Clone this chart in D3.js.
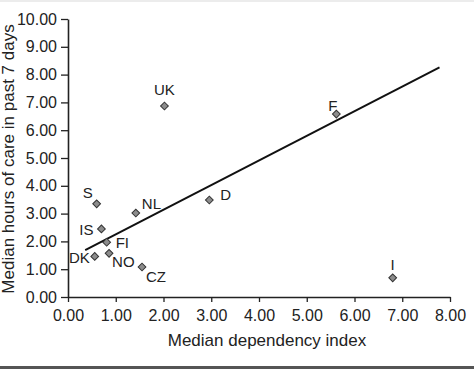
<!DOCTYPE html>
<html>
<head>
<meta charset="utf-8">
<script src="https://cdn.jsdelivr.net/npm/d3@7"></script>
<style>
  body { margin: 0; background: #fff; }
  svg { display: block; font-family: "Liberation Sans", Arial, sans-serif; }
</style>
</head>
<body>
<div id="chart"></div>
<script>
// Country data
const countries = ['UK', 'F', 'I', 'D', 'S', 'NL', 'IS', 'FI', 'DK', 'NO', 'CZ'];
const dependency = [2.02, 5.62, 6.80, 2.96, 0.60, 1.42, 0.70, 0.81, 0.56, 0.86, 1.55];
const hoursCare = [6.87, 6.58, 0.69, 3.49, 3.35, 3.02, 2.45, 1.97, 1.46, 1.57, 1.08];

// Fit line endpoints
const fitX = [0.36, 7.78];
const fitY = [1.69, 8.26];

const xTicks = [0, 1, 2, 3, 4, 5, 6, 7, 8];
const yTicks = [0, 1, 2, 3, 4, 5, 6, 7, 8, 9, 10];

// label offsets [dx, dy, anchor] per country
const labelPos = {
  UK: [0, -11, 'middle'],
  F: [1, -3, 'end'],
  I: [0, -8, 'middle'],
  D: [11, 0, 'start'],
  S: [-4, -6, 'end'],
  NL: [6, -4, 'start'],
  IS: [-8, 6, 'end'],
  FI: [9, 6, 'start'],
  DK: [-5, 7, 'end'],
  NO: [3, 14, 'start'],
  CZ: [4, 15, 'start']
};

const width = 474, height = 369;
const svg = d3.select('#chart').append('svg')
  .attr('width', width)
  .attr('height', height);

// frame bands from the scanned figure
svg.append('rect').attr('x', 0).attr('y', 0).attr('width', width).attr('height', 2).attr('fill', '#ececec');
svg.append('rect').attr('x', 0).attr('y', 366).attr('width', width).attr('height', 3).attr('fill', '#555');

const x = d3.scaleLinear().domain([0, 8]).range([68, 450]);
const y = d3.scaleLinear().domain([0, 10]).range([297, 19]);

const ink = '#222';

// axes
const xAxis = svg.append('g')
  .attr('transform', `translate(0,${y(0)})`)
  .call(d3.axisBottom(x).tickValues(xTicks).tickSize(5).tickSizeOuter(0).tickFormat(d3.format('.2f')));

const yAxis = svg.append('g')
  .attr('transform', `translate(${x(0)},0)`)
  .call(d3.axisLeft(y).tickValues(yTicks).tickSize(7).tickSizeOuter(0).tickFormat(d3.format('.2f')));

[xAxis, yAxis].forEach(a => {
  a.select('.domain').attr('stroke', ink).attr('stroke-width', 1.6);
  a.selectAll('.tick line').attr('stroke', ink).attr('stroke-width', 1.3);
  a.selectAll('.tick text').attr('fill', ink).attr('font-size', 16);
});
xAxis.selectAll('.tick text').attr('y', 13);
yAxis.selectAll('.tick text').attr('x', -11);

// axis titles
svg.append('text')
  .attr('x', (x(0) + x(8)) / 2 + 8)
  .attr('y', 346)
  .attr('text-anchor', 'middle')
  .attr('font-size', 17)
  .attr('fill', ink)
  .text('Median dependency index');

svg.append('text')
  .attr('transform', `translate(14,${159}) rotate(-90)`)
  .attr('text-anchor', 'middle')
  .attr('font-size', 17)
  .attr('fill', ink)
  .text('Median hours of care in past 7 days');

// fit line
svg.append('line')
  .attr('x1', x(fitX[0])).attr('y1', y(fitY[0]))
  .attr('x2', x(fitX[1])).attr('y2', y(fitY[1]))
  .attr('stroke', '#111')
  .attr('stroke-width', 2);

const points = countries.map((c, i) => ({ name: c, dx: dependency[i], hy: hoursCare[i] }));

// diamond markers
svg.selectAll('.pt')
  .data(points)
  .enter()
  .append('path')
  .attr('class', 'pt')
  .attr('d', d3.symbol(d3.symbolSquare, 30))
  .attr('transform', d => `translate(${x(d.dx)},${y(d.hy)}) rotate(45)`)
  .attr('fill', '#8c8c8c')
  .attr('stroke', '#333')
  .attr('stroke-width', 1);

svg.selectAll('.lbl')
  .data(points)
  .enter()
  .append('text')
  .attr('class', 'lbl')
  .attr('x', d => x(d.dx) + labelPos[d.name][0])
  .attr('y', d => y(d.hy) + labelPos[d.name][1])
  .attr('text-anchor', d => labelPos[d.name][2])
  .attr('font-size', 15)
  .attr('fill', ink)
  .text(d => d.name);
</script>
</body>
</html>
